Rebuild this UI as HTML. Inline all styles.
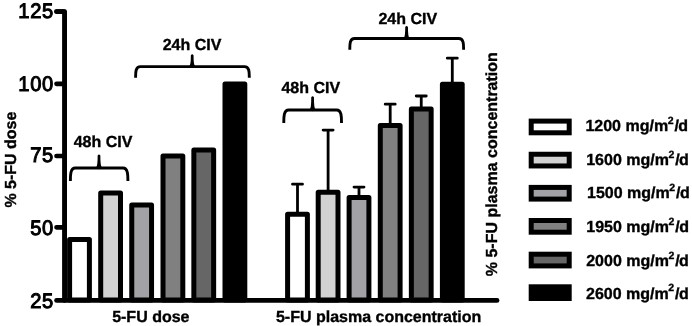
<!DOCTYPE html>
<html><head><meta charset="utf-8"><title>5-FU dose chart</title>
<style>html,body{margin:0;padding:0;background:#fff;}svg{display:block;}text{font-family:"Liberation Sans",Arial,sans-serif;fill:#000;text-rendering:geometricPrecision;}.b{font-weight:bold;font-size:16px;stroke:#000;stroke-width:0.35px;}.t{font-size:21px;stroke:#000;stroke-width:1.05px;}</style>
</head><body>
<svg width="692" height="326" viewBox="0 0 692 326">
<rect x="0" y="0" width="692" height="326" fill="#fff"/>
<defs><filter id="soft" x="-5%" y="-5%" width="110%" height="110%"><feGaussianBlur stdDeviation="0.4"/></filter></defs>
<g filter="url(#soft)">
<path d="M297.50 214.80 V184.20 M292.50 184.20 H302.50" stroke="#000" stroke-width="2.8" stroke-linecap="round" fill="none"/>
<path d="M328.10 192.70 V130.10 M323.10 130.10 H333.10" stroke="#000" stroke-width="2.8" stroke-linecap="round" fill="none"/>
<path d="M359.00 198.00 V187.10 M354.00 187.10 H364.00" stroke="#000" stroke-width="2.8" stroke-linecap="round" fill="none"/>
<path d="M390.20 126.00 V104.20 M385.20 104.20 H395.20" stroke="#000" stroke-width="2.8" stroke-linecap="round" fill="none"/>
<path d="M421.25 109.40 V96.00 M416.25 96.00 H426.25" stroke="#000" stroke-width="2.8" stroke-linecap="round" fill="none"/>
<path d="M452.30 84.80 V58.20 M447.30 58.20 H457.30" stroke="#000" stroke-width="2.8" stroke-linecap="round" fill="none"/>
<rect x="69.60" y="239.40" width="19.80" height="60.60" fill="#ffffff" stroke="#000" stroke-width="5.0" stroke-linejoin="round"/>
<rect x="100.70" y="193.00" width="19.80" height="107.00" fill="#d2d2d2" stroke="#000" stroke-width="5.0" stroke-linejoin="round"/>
<rect x="131.75" y="205.00" width="19.80" height="95.00" fill="#a2a2a6" stroke="#000" stroke-width="5.0" stroke-linejoin="round"/>
<rect x="163.00" y="156.00" width="19.80" height="144.00" fill="#808080" stroke="#000" stroke-width="5.0" stroke-linejoin="round"/>
<rect x="193.85" y="149.90" width="19.80" height="150.10" fill="#666666" stroke="#000" stroke-width="5.0" stroke-linejoin="round"/>
<rect x="225.00" y="84.10" width="19.80" height="215.90" fill="#000000" stroke="#000" stroke-width="5.0" stroke-linejoin="round"/>
<rect x="287.60" y="214.30" width="19.80" height="85.70" fill="#ffffff" stroke="#000" stroke-width="5.0" stroke-linejoin="round"/>
<rect x="318.20" y="192.20" width="19.80" height="107.80" fill="#d2d2d2" stroke="#000" stroke-width="5.0" stroke-linejoin="round"/>
<rect x="349.10" y="197.50" width="19.80" height="102.50" fill="#a2a2a6" stroke="#000" stroke-width="5.0" stroke-linejoin="round"/>
<rect x="380.30" y="125.50" width="19.80" height="174.50" fill="#808080" stroke="#000" stroke-width="5.0" stroke-linejoin="round"/>
<rect x="411.35" y="108.90" width="19.80" height="191.10" fill="#666666" stroke="#000" stroke-width="5.0" stroke-linejoin="round"/>
<rect x="442.40" y="84.30" width="19.80" height="215.70" fill="#000000" stroke="#000" stroke-width="5.0" stroke-linejoin="round"/>
<path d="M56.6 11.6 H64.55 V300.4" stroke="#000" stroke-width="4.9" fill="none" stroke-linejoin="round" stroke-linecap="round"/>
<path d="M56.6 300.4 H497" stroke="#000" stroke-width="4.8" fill="none" stroke-linecap="round"/>
<path d="M56.5 83.8 H64 M56.5 156 H64 M56.5 227.3 H64 M56.5 11.5 H64" stroke="#000" stroke-width="4.7" stroke-linecap="round" fill="none"/>
<path d="M70.40 181.00 C70.40 176.00 70.10 168.00 75.30 168.00 H123.00 C128.20 168.00 127.90 176.00 127.90 181.00" stroke="#000" stroke-width="2.9" fill="none" stroke-linecap="butt"/>
<path d="M96.10 167.40 Q97.70 166.20 97.65 155.60 Q99.00 153.60 100.35 155.60 Q100.30 166.20 101.90 167.40 L99.00 169.20 Z" fill="#000"/>
<path d="M135.60 77.80 C135.60 72.80 135.30 66.60 140.50 66.60 H244.40 C249.60 66.60 249.30 72.80 249.30 77.80" stroke="#000" stroke-width="2.9" fill="none" stroke-linecap="butt"/>
<path d="M189.30 66.00 Q190.90 64.80 190.85 55.20 Q192.20 53.20 193.55 55.20 Q193.50 64.80 195.10 66.00 L192.20 67.80 Z" fill="#000"/>
<path d="M283.80 122.90 C283.80 117.90 283.50 110.00 288.70 110.00 H336.60 C341.80 110.00 341.50 117.90 341.50 122.90" stroke="#000" stroke-width="2.9" fill="none" stroke-linecap="butt"/>
<path d="M309.70 109.40 Q311.30 108.20 311.25 97.20 Q312.60 95.20 313.95 97.20 Q313.90 108.20 315.50 109.40 L312.60 111.20 Z" fill="#000"/>
<path d="M349.80 49.80 C349.80 44.80 349.50 38.50 354.70 38.50 H458.70 C463.90 38.50 463.60 44.80 463.60 49.80" stroke="#000" stroke-width="2.9" fill="none" stroke-linecap="butt"/>
<path d="M403.70 37.90 Q405.30 36.70 405.25 27.00 Q406.60 25.00 407.95 27.00 Q407.90 36.70 409.50 37.90 L406.60 39.70 Z" fill="#000"/>
<rect x="531.2" y="121.10" width="38" height="11.70" fill="#ffffff" stroke="#000" stroke-width="5"/>
<rect x="531.2" y="154.25" width="38" height="11.70" fill="#d2d2d2" stroke="#000" stroke-width="5"/>
<rect x="531.2" y="187.40" width="38" height="11.70" fill="#a2a2a6" stroke="#000" stroke-width="5"/>
<rect x="531.2" y="220.50" width="38" height="11.70" fill="#808080" stroke="#000" stroke-width="5"/>
<rect x="531.2" y="254.20" width="38" height="11.70" fill="#666666" stroke="#000" stroke-width="5"/>
<rect x="531.2" y="286.80" width="38" height="11.70" fill="#000000" stroke="#000" stroke-width="5"/>
</g>
<text class="t" transform="translate(53.9 18.1) scale(0.96 1)" text-anchor="end" letter-spacing="0.7">125</text>
<text class="t" transform="translate(53.9 91.1) scale(0.96 1)" text-anchor="end" letter-spacing="0.7">100</text>
<text class="t" transform="translate(53.9 162.3) scale(0.96 1)" text-anchor="end" letter-spacing="0.7">75</text>
<text class="t" transform="translate(53.9 235.1) scale(0.96 1)" text-anchor="end" letter-spacing="0.7">50</text>
<text class="t" transform="translate(53.9 307.5) scale(0.96 1)" text-anchor="end" letter-spacing="0.7">25</text>
<text class="b" transform="translate(103 146.6)" text-anchor="middle">48h CIV</text>
<text class="b" transform="translate(192 50.3)" text-anchor="middle">24h CIV</text>
<text class="b" transform="translate(310.8 92.5)" text-anchor="middle">48h CIV</text>
<text class="b" transform="translate(407.8 24.2)" text-anchor="middle">24h CIV</text>
<text class="b" transform="translate(150.8 321.6)" text-anchor="middle">5-FU dose</text>
<text class="b" transform="translate(378.6 321.8)" text-anchor="middle">5-FU plasma concentration</text>
<text class="b" transform="translate(16.3 159.6) rotate(-90)" text-anchor="middle">% 5-FU dose</text>
<text class="b" transform="translate(497 164.2) rotate(-90)" text-anchor="middle">% 5-FU plasma concentration</text>
<text class="b" transform="translate(585.4 131.2)">1200 mg/m<tspan font-size="10.5px" dy="-7.2" dx="-0.4">2</tspan><tspan dy="7.2" dx="0.9" letter-spacing="-0.6">/d</tspan></text>
<text class="b" transform="translate(586.2 165.1)">1600 mg/m<tspan font-size="10.5px" dy="-7.2" dx="-0.4">2</tspan><tspan dy="7.2" dx="0.9" letter-spacing="-0.6">/d</tspan></text>
<text class="b" transform="translate(587.0 198.4)">1500 mg/m<tspan font-size="10.5px" dy="-7.2" dx="-0.4">2</tspan><tspan dy="7.2" dx="0.9" letter-spacing="-0.6">/d</tspan></text>
<text class="b" transform="translate(586.3 232.0)">1950 mg/m<tspan font-size="10.5px" dy="-7.2" dx="-0.4">2</tspan><tspan dy="7.2" dx="0.9" letter-spacing="-0.6">/d</tspan></text>
<text class="b" transform="translate(586.2 265.7)">2000 mg/m<tspan font-size="10.5px" dy="-7.2" dx="-0.4">2</tspan><tspan dy="7.2" dx="0.9" letter-spacing="-0.6">/d</tspan></text>
<text class="b" transform="translate(586.0 298.5)">2600 mg/m<tspan font-size="10.5px" dy="-7.2" dx="-0.4">2</tspan><tspan dy="7.2" dx="0.9" letter-spacing="-0.6">/d</tspan></text>
</svg>
</body></html>
